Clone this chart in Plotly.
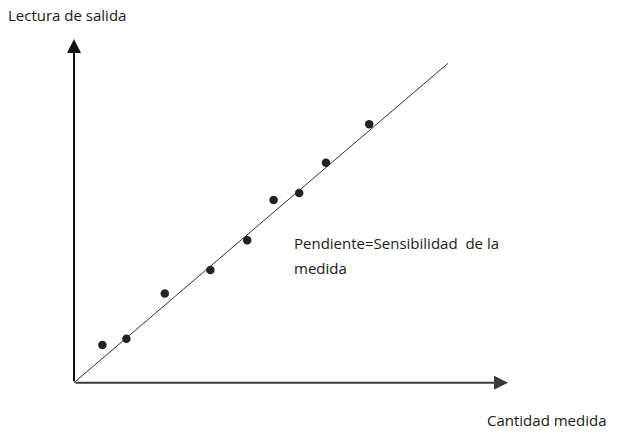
import plotly.graph_objects as go

# measured quantity vs output reading (arbitrary units)
cantidad = [0.71, 1.31, 2.27, 3.41, 4.33, 4.99, 5.63, 6.30, 7.38]
lectura = [0.94, 1.10, 2.23, 2.82, 3.56, 4.57, 4.74, 5.50, 6.46]

# fitted straight line through the origin
recta_x = [0, 9.35]
recta_y = [0, 7.985]

eje_x_max = 10.85
eje_y_max = 8.59

W, H = 623, 433
fuente = "Open Sans"
color_texto = "#1a1a1a"

fig = go.Figure()

fig.add_trace(go.Scatter(x=recta_x, y=recta_y, mode="lines",
                         line=dict(color="#333333", width=1), hoverinfo="skip"))
fig.add_trace(go.Scatter(x=cantidad, y=lectura, mode="markers",
                         marker=dict(color="#222222", size=8.5)))

# axes drawn as arrows
fig.add_annotation(x=eje_x_max, y=0, ax=0, ay=0, xref="x", yref="y", axref="x", ayref="y",
                   showarrow=True, arrowhead=2, arrowsize=1.4, arrowwidth=2,
                   arrowcolor="#3a3a3a", text="")
fig.add_annotation(x=0, y=eje_y_max, ax=0, ay=0, xref="x", yref="y", axref="x", ayref="y",
                   showarrow=True, arrowhead=2, arrowsize=1.4, arrowwidth=2,
                   arrowcolor="#111111", text="")


def texto(t, px, py):
    fig.add_annotation(x=px / W, y=1 - py / H, xref="paper", yref="paper",
                       text=t, showarrow=False, xanchor="left", yanchor="middle",
                       font=dict(family=fuente, size=15, color=color_texto))


texto("Lectura de salida", 6, 15)
texto("Pendiente=Sensibilidad  de la", 292, 243)
texto("medida", 292, 268)
texto("Cantidad medida", 485, 420)

fig.update_layout(
    width=W, height=H,
    margin=dict(l=0, r=0, t=0, b=0),
    paper_bgcolor="white", plot_bgcolor="white",
    showlegend=False,
    xaxis=dict(range=[-74 / 40, 549 / 40], visible=False),
    yaxis=dict(range=[(382.7 - H) / 40, 382.7 / 40], visible=False),
)

# drop the default page margin so the figure sits at the top-left corner
fig.write_html("out.html", config={"displayModeBar": False},
               post_script="document.body.style.margin = '0';")
